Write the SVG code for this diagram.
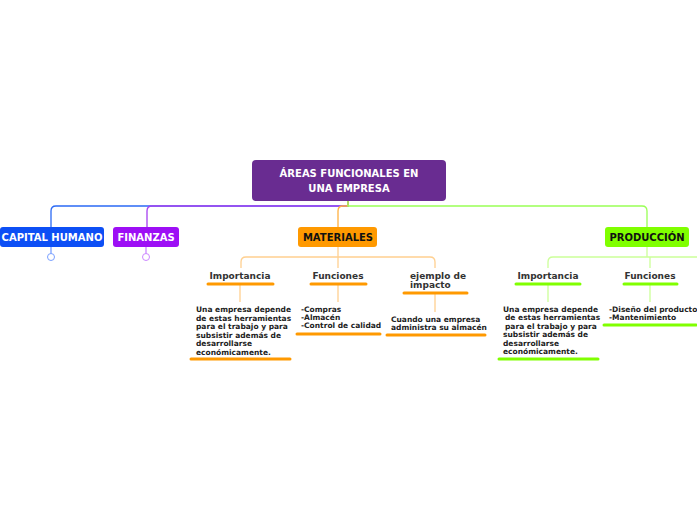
<svg xmlns="http://www.w3.org/2000/svg" width="697" height="520" viewBox="0 0 697 520">
<style>
text{font-family:Verdana,"DejaVu Sans",sans-serif;font-weight:bold}
.t{font-size:10px;text-anchor:middle}
.h{font-size:9px;fill:#333;text-anchor:middle}
.b{font-size:7.5px;fill:#222}
.c{fill:none;stroke-width:1.3}
</style>
<rect width="697" height="520" fill="#fff"/>
<g id="connectors">
<path class="c" stroke="#2b6af5" d="M348,201 V206 H56 Q51,206 51,211 V227"/>
<path class="c" stroke="#a640f0" d="M348,201 V206 H152 Q147,206 147,211 V227"/>
<path class="c" stroke="#ffb040" d="M348,201 V206 H343 Q338,206 338,211 V227"/>
<path class="c" stroke="#99ff55" d="M348,201 V206 H642 Q647,206 647,211 V227"/>
<path class="c" stroke="#7aa0ff" d="M51,247 V254"/>
<path class="c" stroke="#cc88ff" d="M146,247 V254"/>
<path class="c" stroke="#ffd090" d="M338,247 V268 M338,257 H246 Q241,257 241,262 V268 M338,257 H430 Q435,257 435,262 V268 M240,285 V302 M338,285 V302 M435,294 V312"/>
<path class="c" stroke="#ccff99" d="M647,247 V257 M697,257 H553 Q548,257 548,262 V268 M650,257 V268 M548,285 V302 M650,285 V302"/>
</g>
<g id="root"><rect x="252" y="160" width="194" height="41" rx="4" fill="#692c91"/>
<text class="t" x="349" y="177" fill="#fff" font-size="11">ÁREAS FUNCIONALES EN</text>
<text class="t" x="349" y="192" fill="#fff" font-size="11">UNA EMPRESA</text></g>
<g id="capital"><rect x="0" y="227" width="104" height="20" rx="3" fill="#0d4ff5"/><text class="t" x="52" y="241" fill="#fff" font-size="9">CAPITAL HUMANO</text>
<circle cx="51" cy="257" r="3.5" fill="#fff" stroke="#7aa0ff"/></g>
<g id="finanzas"><rect x="113" y="227" width="66" height="20" rx="3" fill="#9d0ff5"/><text class="t" x="146" y="241" fill="#fff" font-size="9">FINANZAS</text>
<circle cx="146" cy="257" r="3.5" fill="#fff" stroke="#cc88ff"/></g>
<g id="materiales"><rect x="298" y="227" width="79" height="20" rx="3" fill="#ff9900"/><text class="t" x="338" y="241" fill="#111" font-size="9">MATERIALES</text></g>
<g id="produccion"><rect x="605" y="227" width="84" height="20" rx="3" fill="#80ff00"/><text class="t" x="647" y="241" fill="#111" font-size="9">PRODUCCIÓN</text></g>
<g id="m-imp"><text class="h" x="240" y="279">Importancia</text><line x1="208" y1="284" x2="273" y2="284" stroke="#ff9900" stroke-width="3" stroke-linecap="round"/></g>
<g id="m-fun"><text class="h" x="338" y="279">Funciones</text><line x1="311" y1="284" x2="366" y2="284" stroke="#ff9900" stroke-width="3" stroke-linecap="round"/></g>
<g id="m-ej"><text class="h" x="410" y="279" text-anchor="start" style="text-anchor:start">ejemplo de</text><text class="h" x="410" y="288" style="text-anchor:start">impacto</text><line x1="404" y1="293" x2="467" y2="293" stroke="#ff9900" stroke-width="3" stroke-linecap="round"/></g>
<g id="m-imp-t"><text class="b" x="196" y="312">Una empresa depende</text><text class="b" x="196" y="321">de estas herramientas</text><text class="b" x="196" y="329">para el trabajo y para</text><text class="b" x="196" y="338">subsistir además de</text><text class="b" x="196" y="346">desarrollarse</text><text class="b" x="196" y="355">económicamente.</text><line x1="191" y1="359" x2="290" y2="359" stroke="#ff9900" stroke-width="3" stroke-linecap="round"/></g>
<g id="m-fun-t"><text class="b" x="301" y="312">-Compras</text><text class="b" x="301" y="320">-Almacén</text><text class="b" x="301" y="328">-Control de calidad</text><line x1="297" y1="334" x2="380" y2="334" stroke="#ff9900" stroke-width="3" stroke-linecap="round"/></g>
<g id="m-ej-t"><text class="b" x="391" y="322">Cuando una empresa</text><text class="b" x="391" y="330">administra su almacén</text><line x1="387" y1="335" x2="485" y2="335" stroke="#ff9900" stroke-width="3" stroke-linecap="round"/></g>
<g id="p-imp"><text class="h" x="548" y="279">Importancia</text><line x1="516" y1="284" x2="580" y2="284" stroke="#80ff00" stroke-width="3" stroke-linecap="round"/></g>
<g id="p-fun"><text class="h" x="650" y="279">Funciones</text><line x1="624" y1="284" x2="677" y2="284" stroke="#80ff00" stroke-width="3" stroke-linecap="round"/></g>
<g id="p-imp-t"><text class="b" x="503" y="312">Una empresa depende</text><text class="b" x="505" y="320"> de estas herramientas</text><text class="b" x="505" y="329">para el trabajo y para</text><text class="b" x="503" y="337">subsistir además de</text><text class="b" x="503" y="346">desarrollarse</text><text class="b" x="503" y="354">económicamente.</text><line x1="499" y1="359" x2="598" y2="359" stroke="#80ff00" stroke-width="3" stroke-linecap="round"/></g>
<g id="p-fun-t"><text class="b" x="609" y="312">-Diseño del producto</text><text class="b" x="609" y="320">-Mantenimiento</text><line x1="604" y1="325" x2="696" y2="325" stroke="#80ff00" stroke-width="3" stroke-linecap="round"/></g>
</svg>
